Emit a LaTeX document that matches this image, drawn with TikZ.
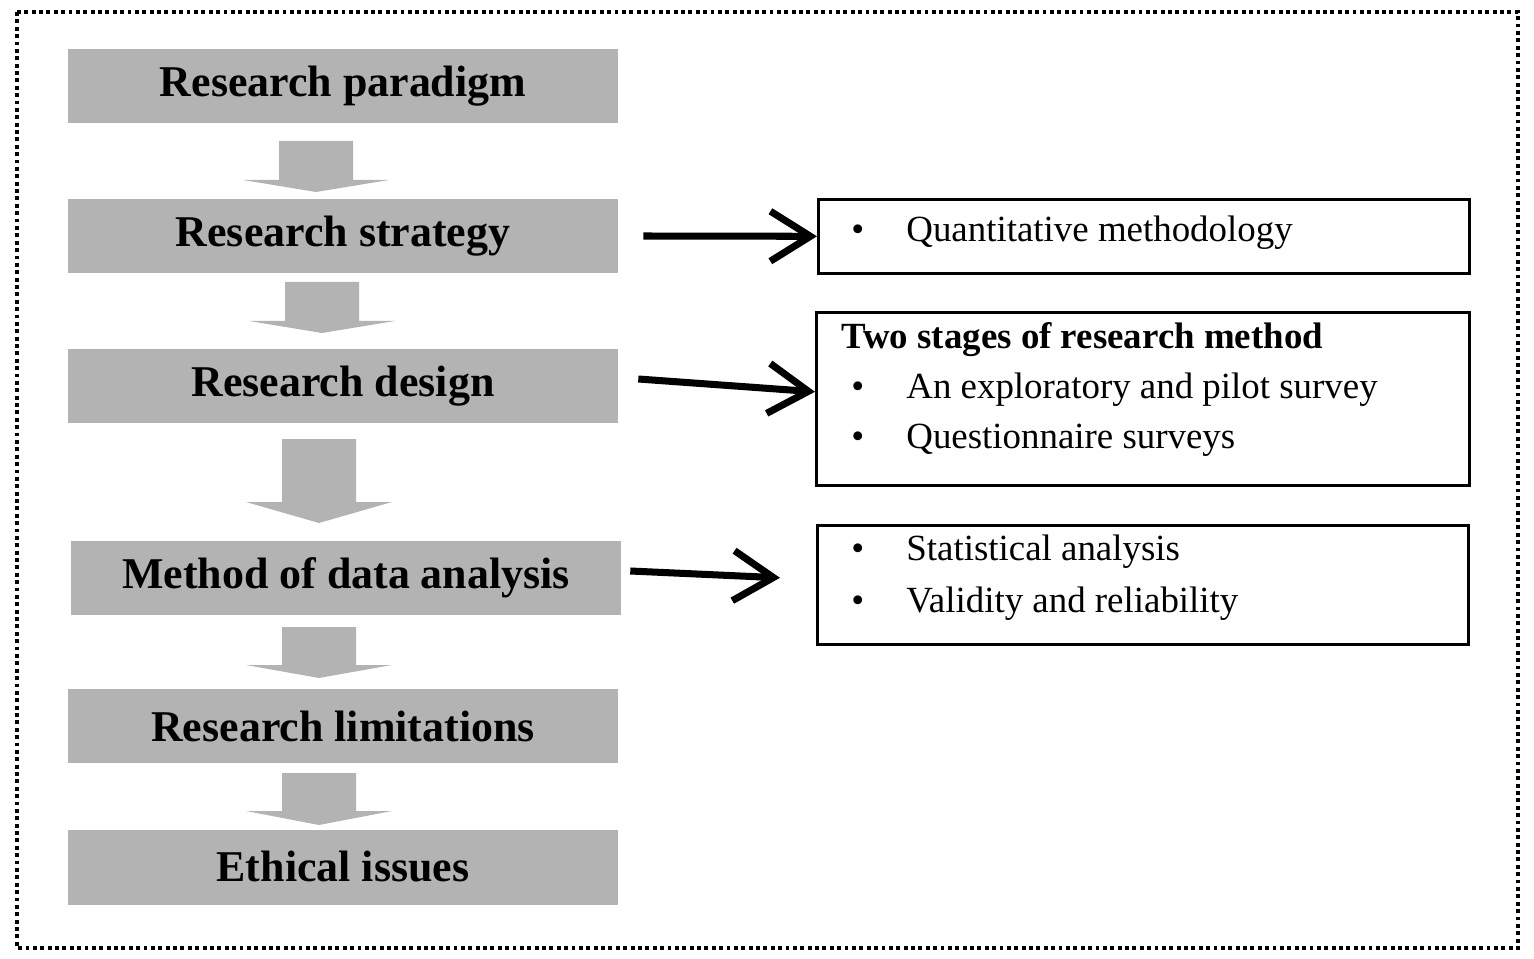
\documentclass[tikz,border=0pt]{standalone}
\usepackage{fontspec}
\setmainfont{Liberation Serif}
\usetikzlibrary{arrows.meta}
\definecolor{boxgray}{HTML}{B3B3B3}
\tikzset{
  stagebox/.style={fill=boxgray,minimum width=11cm,minimum height=1.5cm,inner sep=0pt,
    font=\fontsize{25}{28}\selectfont\bfseries},
  infobox/.style={draw,line width=1.5pt,inner sep=0pt,anchor=north west},
  infotext/.style={anchor=west,inner sep=0pt,font=\fontsize{21}{24}\selectfont},
  linkarrow/.style={line width=4pt,-{Straight Barb[length=0.8cm,width=1.0cm]}}
}
\begin{document}
\begin{tikzpicture}[x=0.02cm,y=-0.02cm]
\useasboundingbox (0,0) rectangle (1534,959);
\draw[line width=2.2pt,dotted] (17,12) rectangle (1518,948);
% stages
\node[stagebox] (paradigm) at (343,86) {Research paradigm};
\node[stagebox] (strategy) at (343,236) {Research strategy};
\node[stagebox] (design) at (343,386) {Research design};
\node[stagebox] (analysis) at (346,578) {Method of data analysis};
\node[stagebox] (limits) at (343,726) {Research limitations};
\node[stagebox] (ethics) at (343,867) {Ethical issues};
% gray block arrows: x, top, shaft end, tip
\foreach \x/\t/\s/\e in {316/141/180/192, 322/282/321/333, 319/439/502/523, 319/627/665/678, 319/773/811/825}
  \fill[boxgray] (\x-37,\t) -- (\x+37,\t) -- (\x+37,\s) -- (\x+73,\s) -- (\x,\e)
    -- (\x-73,\s) -- (\x-37,\s) -- cycle;
% info boxes
\node[infobox,minimum width=13.02cm,minimum height=1.48cm] (method) at (817,198) {};
\node[infobox,minimum width=13.06cm,minimum height=3.46cm] (stages) at (815,311) {};
\node[infobox,minimum width=13.02cm,minimum height=2.38cm] (stats) at (816,524) {};
\draw[linkarrow] (strategy.east) ++(25,0) coordinate (s1) (s1) -- (method.west);
\draw[linkarrow] (design.east) ++(20,-7) coordinate (s2) (s2) -- ([yshift=-0.02cm*(-7)]stages.west) ;
\draw[linkarrow] (analysis.east) ++(9,-7) coordinate (s3) (s3) -- ([xshift=-0.72cm,yshift=0.14cm]stats.west);
% texts
\node[infotext] (b1) at (851,233) {•};
\node[infotext] (t1) at (906,233) {Quantitative methodology};
\node[infotext,font=\fontsize{21}{24}\selectfont\bfseries] (t2) at (841,340) {Two stages of research method};
\node[infotext] (b3) at (851,390) {•};
\node[infotext] (t3) at (906,390) {An exploratory and pilot survey};
\node[infotext] (b4) at (851,440) {•};
\node[infotext] (t4) at (906,440) {Questionnaire surveys};
\node[infotext] (b5) at (851,552) {•};
\node[infotext] (t5) at (906,552) {Statistical analysis};
\node[infotext] (b6) at (851,604) {•};
\node[infotext] (t6) at (906,604) {Validity and reliability};
\end{tikzpicture}
\end{document}
